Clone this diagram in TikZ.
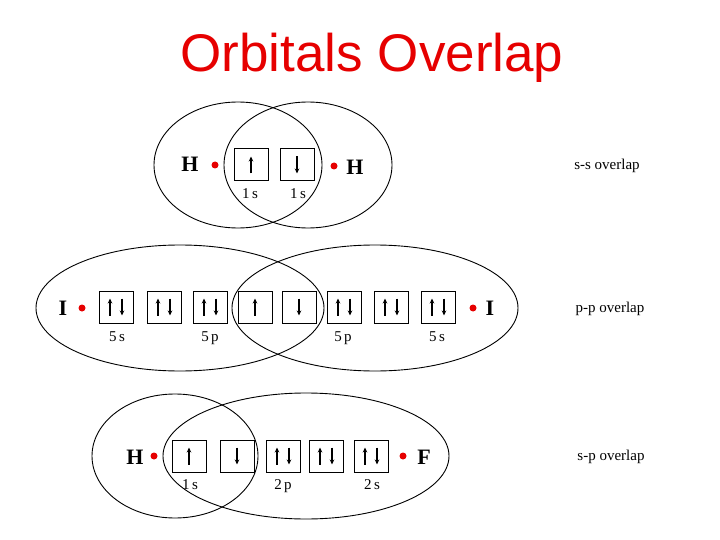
\documentclass[tikz,border=0pt]{standalone}
\usepackage{fontspec}
\setmainfont{Liberation Serif}
\newfontfamily\titlefont{Liberation Sans}
\usetikzlibrary{arrows.meta}
\definecolor{tred}{RGB}{230,0,0}
\tikzset{
 obox/.style={draw,line width=1pt,minimum width=34pt,minimum height=32pt,inner sep=0pt},
 lbl/.style={font=\fontsize{15}{17}\selectfont,anchor=base},
 atom/.style={font=\fontsize{22}{26}\selectfont\bfseries},
 side/.style={font=\fontsize{15}{17}\selectfont},
 dot/.style={circle,fill=tred,inner sep=0pt,minimum width=5pt,minimum height=7pt},
 spin/.style={line width=1.1pt,-{Stealth[length=5pt,width=4.5pt]}},
 orbline/.style={line width=0.9pt}
}
\newcommand{\upA}[2]{\draw[spin] ([xshift=#2pt,yshift=8pt]#1.south) -- ([xshift=#2pt,yshift=-8pt]#1.north);}
\newcommand{\dnA}[2]{\draw[spin] ([xshift=#2pt,yshift=-8pt]#1.north) -- ([xshift=#2pt,yshift=8pt]#1.south);}
\newcommand{\pairA}[1]{\upA{#1}{-6}\dnA{#1}{6}}
\begin{document}
\begin{tikzpicture}[x=1pt,y=-1pt]
\useasboundingbox (0,0) rectangle (720,540);
\node[text=tred,font=\titlefont\fontsize{53}{58}\selectfont] (title) at (372,58) {Orbitals Overlap};
% row 1
\draw[orbline] (238,165) ellipse [x radius=84,y radius=63];
\draw[orbline] (308,165) ellipse [x radius=84,y radius=63];
\node[obox] (a1) at (251,165) {}; \node[obox] (a2) at (297,165) {};
\upA{a1}{0} \dnA{a2}{0}
\node[lbl] (la1) at (250,199) {1\,s}; \node[lbl] (la2) at (298,199) {1\,s};
\node[atom] (h1) at (190,164) {H}; \node[dot] (d1) at (215,165) {};
\node[dot] (d2) at (334,166) {}; \node[atom] (h2) at (355,167) {H};
\node[side] (s1) at (607,166) {s-s overlap};
% row 2
\draw[orbline] (180,308) ellipse [x radius=144,y radius=63];
\draw[orbline] (375,308) ellipse [x radius=143,y radius=63];
\foreach \n/\x in {b1/116,b2/164,b3/210,b4/255,b5/299,b6/344,b7/391,b8/438}
  \node[obox] (\n) at (\x,307) {};
\pairA{b1}\pairA{b2}\pairA{b3}\upA{b4}{0}\dnA{b5}{0}\pairA{b6}\pairA{b7}\pairA{b8}
\node[lbl] (lb1) at (117,341) {5\,s}; \node[lbl] (lb2) at (210,341) {5\,p};
\node[lbl] (lb3) at (343,341) {5\,p}; \node[lbl] (lb4) at (437,341) {5\,s};
\node[atom] (i1) at (63,308) {I}; \node[dot] (d3) at (82,308) {};
\node[dot] (d4) at (473,308) {}; \node[atom] (i2) at (490,308) {I};
\node[side] (s2) at (610,309) {p-p overlap};
% row 3
\draw[orbline] (175,456) ellipse [x radius=83,y radius=62];
\draw[orbline] (306,456) ellipse [x radius=143,y radius=63];
\foreach \n/\x in {c1/189,c2/237,c3/283,c4/326,c5/371}
  \node[obox] (\n) at (\x,456) {};
\upA{c1}{0}\dnA{c2}{0}\pairA{c3}\pairA{c4}\pairA{c5}
\node[lbl] (lc1) at (190,489) {1\,s}; \node[lbl] (lc2) at (283,489) {2\,p}; \node[lbl] (lc3) at (372,489) {2\,s};
\node[atom] (h3) at (135,457) {H}; \node[dot] (d5) at (154,456) {};
\node[dot] (d6) at (403,456) {}; \node[atom] (f1) at (424,457) {F};
\node[side] (s3) at (611,457) {s-p overlap};
\end{tikzpicture}
\end{document}
